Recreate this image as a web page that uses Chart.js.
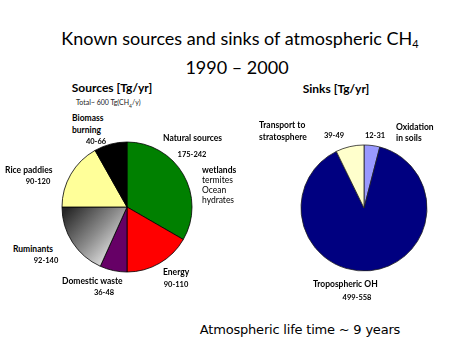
<!DOCTYPE html>
<html><head><meta charset="utf-8">
<script src="https://cdn.jsdelivr.net/npm/chart.js@4"></script>
<style>
html,body{margin:0;padding:0;background:#fff;}
#wrap{position:relative;width:474px;height:355px;overflow:hidden;font-family:Lato,"Open Sans",sans-serif;color:#000;}
.t{position:absolute;white-space:nowrap;line-height:1;transform:translateY(-50%);color:#000;}
.c{transform:translate(-50%,-50%);}
.b{font-weight:bold;}
canvas{position:absolute;}
</style></head>
<body><div id="wrap">
<canvas id="src" width="140" height="140" style="left:57px;top:137px"></canvas>
<canvas id="snk" width="140" height="140" style="left:294px;top:138px"></canvas>
</div>
<script>
// ---- data ----
const sourceLabels = ["Natural sources","Energy","Domestic waste","Ruminants","Rice paddies","Biomass burning"];
const sourceValues = [208,104,42,114,105,51];
const sourceRanges = ["175-242","90-110","36-48","92-140","90-120","40-66"];
const sinkLabels = ["Oxidation in soils","Tropospheric OH","Transport to stratosphere"];
const sinkValues = [24,527,43];
const sinkRanges = ["12-31","499-558","39-49"];

const wrap = document.getElementById('wrap');
function txt(s, x, y, size, cls, extra){
  const d=document.createElement('div');
  d.className='t '+(cls||'');
  d.style.left=x+'px'; d.style.top=y+'px'; d.style.fontSize=size+'px';
  if(extra) Object.assign(d.style, extra);
  d.innerHTML=s; wrap.appendChild(d); return d;
}
// titles
txt('Known sources and sinks of atmospheric CH<sub style="font-size:11px;vertical-align:-3px">4</sub>',240,39,18,'c');
txt('1990 – 2000',237,67,18,'c');
txt('Sources [Tg/yr]',112,88,12,'c b');
txt('Total~ 600 Tg(CH<sub style="font-size:5px">4</sub>/y)',76,104,7,'',{color:'#222'});
txt('Sinks [Tg/yr]',336,89,12,'c b');
// source labels
txt('Biomass',72,118,8.5,'b'); txt('burning',72,130,8.5,'b'); txt(sourceRanges[5],96,142,7.5,'c b');
txt('Natural sources',163,138,8.5,'b'); txt(sourceRanges[0],192,155,7.5,'c b');
txt('wetlands',202,170,8.5,'b'); txt('termites',202,180,8.5); txt('Ocean',202,190,8.5); txt('hydrates',202,200,8.5);
txt('Rice paddies',5,170,8.5,'b'); txt(sourceRanges[4],38,182,7.5,'c b');
txt('Ruminants',13,249,8.5,'b'); txt(sourceRanges[3],46,261,7.5,'c b');
txt('Domestic waste',62,281,8.5,'b'); txt(sourceRanges[2],104,293,7.5,'c b');
txt('Energy',163,272,8.5,'b'); txt(sourceRanges[1],176,285,7.5,'c b');
// sink labels
txt('Transport to',259,125,8.5,'b'); txt('stratosphere',259,137,8.5,'b');
txt(sinkRanges[2],334,136,7.5,'c b'); txt(sinkRanges[0],375,136,7.5,'c b');
txt('Oxidation',396,127,8.5,'b'); txt('in soils',396,138,8.5,'b');
txt('Tropospheric OH',313,284,8.5,'b'); txt(sinkRanges[1],357,298,7.5,'c b');
txt('Atmospheric life time ~ 9 years',300,329,13,'c',{fontFamily:'"DejaVu Sans",sans-serif',letterSpacing:'-0.2px'});

const srcColors = ['#008000','#ff0000','#660066',null,'#ffff99','#000000'];
let grad = null;
function srcFill(c){
  if(c.dataIndex===3){
    if(!grad){
      grad = c.chart.ctx.createLinearGradient(6,76,62,128);
      grad.addColorStop(0,'#262626'); grad.addColorStop(0.5,'#8c8c8c'); grad.addColorStop(1,'#ffffff');
    }
    return grad;
  }
  return srcColors[c.dataIndex];
}
new Chart(document.getElementById('src'),{
  type:'pie',
  data:{labels:sourceLabels,datasets:[{data:sourceValues,
    backgroundColor:srcFill,
    borderColor:'#000',borderWidth:0.8}]},
  options:{responsive:false,animation:false,radius:65,layout:{padding:0},
    plugins:{legend:{display:false},tooltip:{enabled:false}}}
});
new Chart(document.getElementById('snk'),{
  type:'pie',
  data:{labels:sinkLabels,datasets:[{data:sinkValues,
    backgroundColor:['#9999ff','#000080','#ffffcc'],
    borderColor:'#222',borderWidth:0.8}]},
  options:{responsive:false,animation:false,radius:63,layout:{padding:0},
    plugins:{legend:{display:false},tooltip:{enabled:false}}}
});
</script></body></html>
